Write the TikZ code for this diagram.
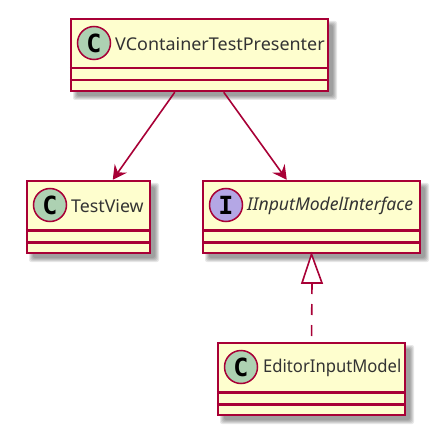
\documentclass[tikz,border=0pt]{standalone}
\usepackage{fontspec}
\setmainfont{Noto Sans}
\newfontfamily\badgefont{DejaVu Sans Mono}
\usetikzlibrary{arrows.meta,calc}
\definecolor{bord}{HTML}{A80036}
\definecolor{fillc}{HTML}{FEFECE}
\definecolor{cgreen}{HTML}{ADD1B2}
\definecolor{ipurple}{HTML}{B4A7E5}
\definecolor{txt}{HTML}{333333}
\tikzset{
  x=1pt,y=-1pt,
  classbox/.style={draw=bord,fill=fillc,line width=2.5pt,rectangle,inner sep=0pt,minimum height=72pt},
  badge/.style={circle,draw=bord,line width=1.5pt,minimum size=33pt,inner sep=0pt,font=\badgefont\fontsize{25}{25}\selectfont\bfseries,text=black},
  title/.style={anchor=west,inner sep=0pt,text=txt,font=\fontsize{17.6}{20}\selectfont},
  conn/.style={draw=bord,line width=1.6pt},
  shadowrect/.style={fill=black,fill opacity=.09,draw=none},
  arrowtip/.style={-{Stealth[length=14pt,width=15pt,inset=5pt,fill=bord]},conn},
}
\newcommand{\umlshadow}[4]{%
  \foreach \e in {0,1,2,3,4}{\fill[shadowrect,rounded corners=2pt] (#1+4-\e+2,#2+4-\e+2) rectangle (#3+3+\e+2,#4+3+\e+2);}%
}
\newcommand{\compartments}[1]{%
  \draw[bord,line width=2.5pt] ($(#1.south west)+(0,-24)$) -- ($(#1.south east)+(0,-24)$);
  \draw[bord,line width=2.5pt] ($(#1.south west)+(0,-12)$) -- ($(#1.south east)+(0,-12)$);
}
\begin{document}
\begin{tikzpicture}
\useasboundingbox (0,0) rectangle (438,438);
\umlshadow{71}{19}{328}{91}
\umlshadow{27}{181}{150}{253}
\umlshadow{203}{181}{420}{253}
\umlshadow{218}{343}{405}{415}

\node[classbox,minimum width=257pt] (vc) at (199.5,55) {};
\node[classbox,minimum width=123pt] (tv) at (88.5,217) {};
\node[classbox,minimum width=217pt] (im) at (311.5,217) {};
\node[classbox,minimum width=187pt] (ed) at (311.5,379) {};
\compartments{vc}\compartments{tv}\compartments{im}\compartments{ed}

\node[badge,fill=cgreen] (vcb) at (94,43) {C};
\node[badge,fill=cgreen] (tvb) at (50,205) {C};
\node[badge,fill=ipurple] (imb) at (226,205) {I};
\node[badge,fill=cgreen] (edb) at (241,367) {C};

\node[title] (vct) at (115,44) {\scalebox{1.02}[1]{VContainerTestPresenter}};
\node[title] (tvt) at (71,206) {\scalebox{1.01}[1]{TestView}};
\node[title] (imt) at (247,206) {\itshape IInputModelInterface};
\node[title] (edt) at (263,368) {\scalebox{.945}[1]{EditorInputModel}};

\coordinate (vs1) at ($(vc.south west)+(105,0)$);
\coordinate (vs2) at ($(vc.south west)+(154,0)$);
\coordinate (tvn) at ($(tv.north west)+(87,0)$);
\coordinate (imn) at ($(im.north west)+(85,0)$);
\draw[arrowtip] (vs1) -- (tvn);
\draw[arrowtip] (vs2) -- (imn);

\coordinate (tipb) at (312,283);
\draw[conn,dash pattern=on 11pt off 10pt] (tipb) -- (ed.north);
\draw[draw=bord,line width=1.6pt,fill=white,line join=miter] (im.south) -- (302,283) -- (322,283) -- cycle;
\end{tikzpicture}
\end{document}
